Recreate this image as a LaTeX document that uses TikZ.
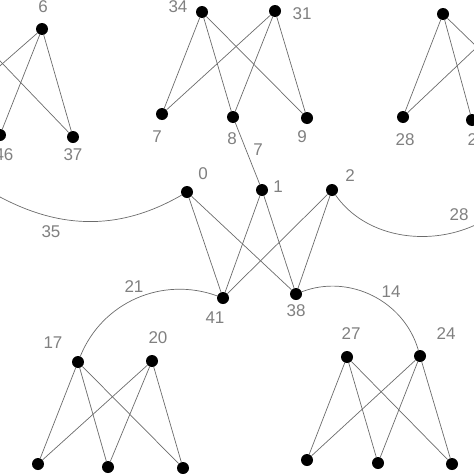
\documentclass[tikz,border=0pt]{standalone}
\usepackage{fontspec}
\setmainfont{Liberation Sans}
\begin{document}
\begin{tikzpicture}[x=1pt,y=-1pt,
  dot/.style={circle,fill=black,draw=none,inner sep=0pt,minimum size=12pt},
  edge/.style={draw=black!58,line width=0.7pt},
  lab/.style={text=black!50,font=\fontsize{17}{17}\selectfont,inner sep=0pt}]
\useasboundingbox (0,0) rectangle (474,474);
\clip (0,0) rectangle (474,474);
% off-image coordinates
\coordinate (oTL) at (-47,12);
\coordinate (oBL) at (-79,135);
\coordinate (oTR) at (514,12);
\coordinate (oBR) at (550,118);
\coordinate (oL) at (-9,192);
\coordinate (oR) at (518,190);
% nodes
\node[dot] (n6) at (42,29) {};
\node[dot] (n46) at (0,135) {};
\node[dot] (n37) at (73,137) {};
\node[dot] (n34) at (202,12) {};
\node[dot] (n31) at (275,11) {};
\node[dot] (n7) at (162,114) {};
\node[dot] (n8) at (233,117) {};
\node[dot] (n9) at (307,118) {};
\node[dot] (nT) at (443,14) {};
\node[dot] (n28) at (403,117) {};
\node[dot] (n29) at (472,120) {};
\node[dot] (n0) at (187,192) {};
\node[dot] (n1) at (262,190) {};
\node[dot] (n2) at (332,190) {};
\node[dot] (n41) at (223,298) {};
\node[dot] (n38) at (296,294) {};
\node[dot] (n17) at (78,362) {};
\node[dot] (n20) at (152,361) {};
\node[dot] (b1) at (38,464) {};
\node[dot] (b2) at (108,467) {};
\node[dot] (b3) at (183,468) {};
\node[dot] (n27) at (347,357) {};
\node[dot] (n24) at (420,356) {};
\node[dot] (b4) at (307,460) {};
\node[dot] (b5) at (378,463) {};
\node[dot] (b6) at (452,464) {};
% edges
\begin{scope}[on background layer/.style={}]
\draw[edge] (n6) -- (n46);
\draw[edge] (n6) -- (n37);
\draw[edge] (n6) -- (oBL);
\draw[edge] (oTL) -- (n37);
\draw[edge] (n34) -- (n7);
\draw[edge] (n34) -- (n8);
\draw[edge] (n34) -- (n9);
\draw[edge] (n31) -- (n7);
\draw[edge] (n31) -- (n8);
\draw[edge] (n31) -- (n9);
\draw[edge] (nT) -- (n28);
\draw[edge] (nT) -- (n29);
\draw[edge] (nT) -- (oBR);
\draw[edge] (oTR) -- (n28);
\draw[edge] (n8) -- (n1);
\draw[edge] (n0) -- (n41);
\draw[edge] (n0) -- (n38);
\draw[edge] (n1) -- (n41);
\draw[edge] (n1) -- (n38);
\draw[edge] (n2) -- (n41);
\draw[edge] (n2) -- (n38);
\draw[edge] (n0) to[out=210,in=-30] (oL);
\draw[edge] (n2) to[out=-55,in=235] (oR);
\draw[edge] (n41) to[out=160,in=68] (n17);
\draw[edge] (n38) to[out=21,in=106] (n24);
\draw[edge] (n17) -- (b1);
\draw[edge] (n17) -- (b2);
\draw[edge] (n17) -- (b3);
\draw[edge] (n20) -- (b1);
\draw[edge] (n20) -- (b2);
\draw[edge] (n20) -- (b3);
\draw[edge] (n27) -- (b4);
\draw[edge] (n27) -- (b5);
\draw[edge] (n27) -- (b6);
\draw[edge] (n24) -- (b4);
\draw[edge] (n24) -- (b5);
\draw[edge] (n24) -- (b6);
\end{scope}
% labels
\node[lab] (l6) at (43,7) {6};
\node[lab] (l46) at (4,155) {46};
\node[lab] (l37) at (73,155) {37};
\node[lab] (l34) at (178,7) {34};
\node[lab] (l31) at (302,14) {31};
\node[lab] (l7) at (157,137) {7};
\node[lab] (l8) at (232,139) {8};
\node[lab] (l9) at (302,137) {9};
\node[lab] (le7) at (258,150) {7};
\node[lab] (l28) at (405,140) {28};
\node[lab] (l29) at (477,140) {29};
\node[lab] (l0) at (203,174) {0};
\node[lab] (l35) at (51,232) {35};
\node[lab] (l1) at (278,187) {1};
\node[lab] (l2) at (350,176) {2};
\node[lab] (l28b) at (459,215) {28};
\node[lab] (l21) at (134,287) {21};
\node[lab] (l41) at (215,318) {41};
\node[lab] (l38) at (296,311) {38};
\node[lab] (l14) at (391,292) {14};
\node[lab] (l17) at (53,343) {17};
\node[lab] (l20) at (158,338) {20};
\node[lab] (l27) at (351,334) {27};
\node[lab] (l24) at (446,334) {24};
\end{tikzpicture}
\end{document}
